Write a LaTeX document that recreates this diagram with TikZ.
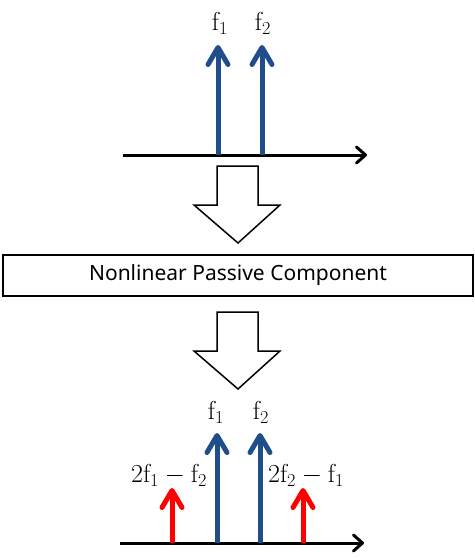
\RequirePackage{fix-cm}
\documentclass[tikz,border=0pt]{standalone}
\usepackage{fontspec}
\newfontfamily\boxfont{Noto Sans}
\usetikzlibrary{arrows.meta}
\definecolor{sigblue}{HTML}{1F4E8A}
\definecolor{sigred}{HTML}{FF0000}
\tikzset{
  axis/.style={line width=3pt,-{Straight Barb[length=9pt,width=16pt,round]}},
  spike/.style={line width=5pt,-{Straight Barb[length=17pt,width=20pt,round]}},
  blue spike/.style={spike,draw=sigblue},
  red spike/.style={spike,draw=sigred},
  flab/.style={inner sep=0pt,font=\fontsize{26}{30}\selectfont},
  blockarrow/.style={draw=black,line width=1.5pt,fill=white,line join=miter},
  compbox/.style={draw=black,line width=2pt,minimum width=470pt,minimum height=41pt,inner sep=0pt,font=\boxfont\fontsize{21}{25}\selectfont}
}
\begin{document}
\begin{tikzpicture}[x=1pt,y=-1pt]
\useasboundingbox (0,0) rectangle (474,559);
% top spectrum
\coordinate (ta0) at (123,155);
\coordinate (ta1) at (367,155);
\coordinate (tb1) at (218,155);
\coordinate (tt1) at (218,45);
\coordinate (tb2) at (262,155);
\coordinate (tt2) at (262,45);
\draw[axis] (ta0) -- (ta1);
\draw[blue spike] (tb1) -- (tt1);
\draw[blue spike] (tb2) -- (tt2);
\node[flab] (tf1) at (220,23) {$\mathrm{f}_1$};
\node[flab] (tf2) at (263,23) {$\mathrm{f}_2$};
% block arrow 1
\draw[blockarrow] (217,166) -- (258,166) -- (258,205) -- (280,205) -- (238,243) -- (194,205) -- (217,205) -- cycle;
% component box
\node[compbox] (comp) at (238,275.5) {Nonlinear Passive Component};
% block arrow 2
\draw[blockarrow] (217,312) -- (258,312) -- (258,351) -- (280,351) -- (238,389) -- (194,351) -- (217,351) -- cycle;
% bottom spectrum
\coordinate (ba0) at (120,543);
\coordinate (ba1) at (364,543);
\coordinate (bb1) at (217,543);
\coordinate (bt1) at (217,433);
\coordinate (bb2) at (260,543);
\coordinate (bt2) at (260,433);
\coordinate (rb1) at (172,543);
\coordinate (rt1) at (172,488);
\coordinate (rb2) at (303,543);
\coordinate (rt2) at (303,488);
\draw[axis] (ba0) -- (ba1);
\draw[blue spike] (bb1) -- (bt1);
\draw[blue spike] (bb2) -- (bt2);
\draw[red spike] (rb1) -- (rt1);
\draw[red spike] (rb2) -- (rt2);
\node[flab] (bf1) at (216,412) {$\mathrm{f}_1$};
\node[flab] (bf2) at (261,412) {$\mathrm{f}_2$};
\node[flab] (im1) at (169,475) {$2\mathrm{f}_1-\mathrm{f}_2$};
\node[flab] (im2) at (306,475) {$2\mathrm{f}_2-\mathrm{f}_1$};
\end{tikzpicture}
\end{document}
